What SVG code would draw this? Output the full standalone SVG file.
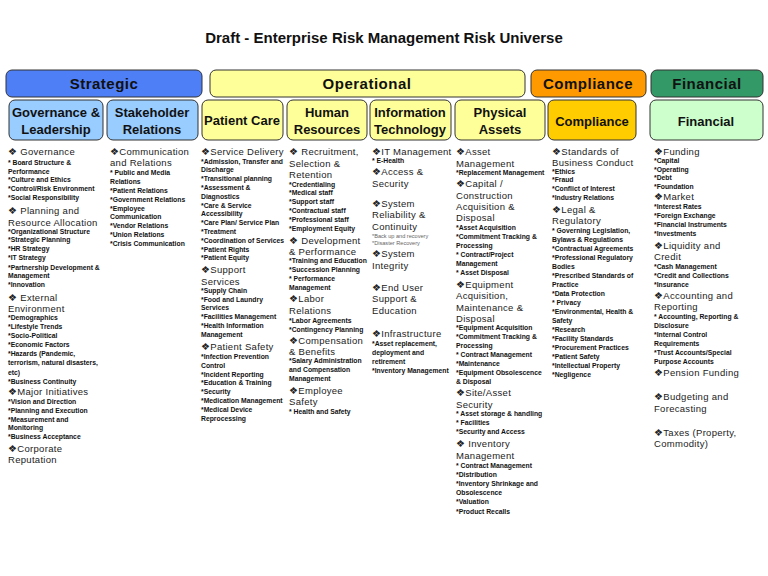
<svg xmlns="http://www.w3.org/2000/svg" width="768" height="576" viewBox="0 0 768 576">
<style>
text{font-family:"Liberation Sans",Arial,sans-serif;fill:#111}
.title{font-size:15px;font-weight:bold;text-anchor:middle}
.cat{font-size:15px;font-weight:bold;text-anchor:middle;letter-spacing:0.5px}
.sub{font-size:13px;font-weight:bold;text-anchor:middle}
.h{font-size:9.5px;fill:#222;letter-spacing:0.3px}
.s{font-size:6.8px;font-weight:bold}
.t{font-size:5.6px;fill:#666}
.box{stroke:#333;stroke-width:1}
</style>
<rect width="768" height="576" fill="#fff"/>
<text class="title" x="384" y="43">Draft - Enterprise Risk Management Risk Universe</text>

<g id="cat-strategic"><rect class="box" x="6" y="70" width="196" height="27" rx="6" fill="#4f7ff7"/><text class="cat" x="104" y="89">Strategic</text></g>
<g id="cat-operational"><rect class="box" x="210" y="70" width="315" height="27" rx="6" fill="#ffff99"/><text class="cat" x="367" y="89">Operational</text></g>
<g id="cat-compliance"><rect class="box" x="531" y="70" width="115" height="27" rx="6" fill="#ff9900"/><text class="cat" x="588" y="89">Compliance</text></g>
<g id="cat-financial"><rect class="box" x="651" y="70" width="112" height="27" rx="6" fill="#339966"/><text class="cat" x="707" y="89">Financial</text></g>

<g id="sub-governance"><rect class="box" x="9" y="100" width="94" height="40" rx="6" fill="#99ccff"/><text class="sub" x="56" y="117">Governance &amp;</text><text class="sub" x="56" y="134">Leadership</text></g>
<g id="sub-stakeholder"><rect class="box" x="107" y="100" width="91" height="40" rx="6" fill="#99ccff"/><text class="sub" x="152" y="117">Stakeholder</text><text class="sub" x="152" y="134">Relations</text></g>
<g id="sub-patient"><rect class="box" x="202" y="100" width="81" height="40" rx="6" fill="#ffff99"/><text class="sub" x="242" y="125">Patient Care</text></g>
<g id="sub-hr"><rect class="box" x="287" y="100" width="80" height="40" rx="6" fill="#ffff99"/><text class="sub" x="327" y="117">Human</text><text class="sub" x="327" y="134">Resources</text></g>
<g id="sub-it"><rect class="box" x="370" y="100" width="81" height="40" rx="6" fill="#ffff99"/><text class="sub" x="410" y="117">Information</text><text class="sub" x="410" y="134">Technology</text></g>
<g id="sub-physical"><rect class="box" x="455" y="100" width="90" height="40" rx="6" fill="#ffff99"/><text class="sub" x="500" y="117">Physical</text><text class="sub" x="500" y="134">Assets</text></g>
<g id="sub-compliance"><rect class="box" x="548" y="100" width="88" height="40" rx="6" fill="#ffcc00"/><text class="sub" x="592" y="126">Compliance</text></g>
<g id="sub-financial"><rect class="box" x="650" y="100" width="113" height="40" rx="6" fill="#ccffcc"/><text class="sub" x="706" y="126">Financial</text></g>

<g id="connectors"></g>

<g id="list-governance" transform="translate(8,0)">
<text class="h" y="155">❖ Governance</text>
<text class="s" y="165">* Board Structure &amp;</text>
<text class="s" y="174">Performance</text>
<text class="s" y="182">*Culture and Ethics</text>
<text class="s" y="191">*Control/Risk Environment</text>
<text class="s" y="200">*Social Responsibility</text>
<text class="h" y="214">❖ Planning and</text>
<text class="h" y="226">Resource Allocation</text>
<text class="s" y="234">*Organizational Structure</text>
<text class="s" y="242">*Strategic Planning</text>
<text class="s" y="251">*HR Strategy</text>
<text class="s" y="260">*IT Strategy</text>
<text class="s" y="270">*Partnership Development &amp;</text>
<text class="s" y="278">Management</text>
<text class="s" y="287">*Innovation</text>
<text class="h" y="301">❖ External</text>
<text class="h" y="312">Environment</text>
<text class="s" y="320">*Demographics</text>
<text class="s" y="329">*Lifestyle Trends</text>
<text class="s" y="338">*Socio-Political</text>
<text class="s" y="347">*Economic Factors</text>
<text class="s" y="356">*Hazards (Pandemic,</text>
<text class="s" y="365">terrorism, natural disasters,</text>
<text class="s" y="375">etc)</text>
<text class="s" y="384">*Business Continuity</text>
<text class="h" y="395">❖Major Initiatives</text>
<text class="s" y="404">*Vision and Direction</text>
<text class="s" y="413">*Planning and Execution</text>
<text class="s" y="422">*Measurement and</text>
<text class="s" y="430">Monitoring</text>
<text class="s" y="439">*Business Acceptance</text>
<text class="h" y="452">❖Corporate</text>
<text class="h" y="463">Reputation</text>
</g>

<g id="list-stakeholder" transform="translate(110,0)">
<text class="h" y="155">❖Communication</text>
<text class="h" y="166">and Relations</text>
<text class="s" y="175">* Public and Media</text>
<text class="s" y="184">Relations</text>
<text class="s" y="193">*Patient Relations</text>
<text class="s" y="202">*Government Relations</text>
<text class="s" y="211">*Employee</text>
<text class="s" y="219">Communication</text>
<text class="s" y="228">*Vendor Relations</text>
<text class="s" y="237">*Union Relations</text>
<text class="s" y="246">*Crisis Communication</text>
</g>

<g id="list-patient" transform="translate(201,0)">
<text class="h" y="155">❖Service Delivery</text>
<text class="s" y="164">*Admission, Transfer and</text>
<text class="s" y="172">Discharge</text>
<text class="s" y="181">*Transitional planning</text>
<text class="s" y="190">*Assessment &amp;</text>
<text class="s" y="199">Diagnostics</text>
<text class="s" y="208">*Care &amp; Service</text>
<text class="s" y="216">Accessibility</text>
<text class="s" y="225">*Care Plan/ Service Plan</text>
<text class="s" y="234">*Treatment</text>
<text class="s" y="243">*Coordination of Services</text>
<text class="s" y="252">*Patient Rights</text>
<text class="s" y="260">*Patient Equity</text>
<text class="h" y="273">❖Support</text>
<text class="h" y="285">Services</text>
<text class="s" y="293">*Supply Chain</text>
<text class="s" y="302">*Food and Laundry</text>
<text class="s" y="310">Services</text>
<text class="s" y="319">*Facilities Management</text>
<text class="s" y="328">*Health Information</text>
<text class="s" y="337">Management</text>
<text class="h" y="350">❖Patient Safety</text>
<text class="s" y="359">*Infection Prevention</text>
<text class="s" y="368">Control</text>
<text class="s" y="377">*Incident Reporting</text>
<text class="s" y="385">*Education &amp; Training</text>
<text class="s" y="394">*Security</text>
<text class="s" y="403">*Medication Management</text>
<text class="s" y="412">*Medical Device</text>
<text class="s" y="421">Reprocessing</text>
</g>

<g id="list-hr" transform="translate(289,0)">
<text class="h" y="155">❖ Recruitment,</text>
<text class="h" y="167">Selection &amp;</text>
<text class="h" y="178">Retention</text>
<text class="s" y="187">*Credentialing</text>
<text class="s" y="195">*Medical staff</text>
<text class="s" y="204">*Support staff</text>
<text class="s" y="213">*Contractual staff</text>
<text class="s" y="222">*Professional staff</text>
<text class="s" y="231">*Employment Equity</text>
<text class="h" y="244">❖ Development</text>
<text class="h" y="255">&amp; Performance</text>
<text class="s" y="263">*Training and Education</text>
<text class="s" y="272">*Succession Planning</text>
<text class="s" y="281">* Performance</text>
<text class="s" y="290">Management</text>
<text class="h" y="302">❖Labor</text>
<text class="h" y="314">Relations</text>
<text class="s" y="323">*Labor Agreements</text>
<text class="s" y="332">*Contingency Planning</text>
<text class="h" y="344">❖Compensation</text>
<text class="h" y="355">&amp; Benefits</text>
<text class="s" y="363">*Salary Administration</text>
<text class="s" y="372">and Compensation</text>
<text class="s" y="381">Management</text>
<text class="h" y="394">❖Employee</text>
<text class="h" y="405">Safety</text>
<text class="s" y="414">* Health and Safety</text>
</g>

<g id="list-it" transform="translate(372,0)">
<text class="h" y="155">❖IT Management</text>
<text class="s" y="163">* E-Health</text>
<text class="h" y="175">❖Access &amp;</text>
<text class="h" y="187">Security</text>
<text class="h" y="207">❖System</text>
<text class="h" y="218">Reliability &amp;</text>
<text class="h" y="230">Continuity</text>
<text class="t" y="238">*Back up and recovery</text>
<text class="t" y="245">*Disaster Recovery</text>
<text class="h" y="257">❖System</text>
<text class="h" y="269">Integrity</text>
<text class="h" y="291">❖End User</text>
<text class="h" y="302">Support &amp;</text>
<text class="h" y="314">Education</text>
<text class="h" y="337">❖Infrastructure</text>
<text class="s" y="346">*Asset replacement,</text>
<text class="s" y="355">deployment and</text>
<text class="s" y="364">retirement</text>
<text class="s" y="373">*Inventory Management</text>
</g>

<g id="list-physical" transform="translate(456,0)">
<text class="h" y="155">❖Asset</text>
<text class="h" y="167">Management</text>
<text class="s" y="175">*Replacement Management</text>
<text class="h" y="187">❖Capital /</text>
<text class="h" y="199">Construction</text>
<text class="h" y="210">Acquisition &amp;</text>
<text class="h" y="221">Disposal</text>
<text class="s" y="230">*Asset Acquisition</text>
<text class="s" y="239">*Commitment Tracking &amp;</text>
<text class="s" y="248">Processing</text>
<text class="s" y="257">* Contract/Project</text>
<text class="s" y="266">Management</text>
<text class="s" y="275">* Asset Disposal</text>
<text class="h" y="288">❖Equipment</text>
<text class="h" y="299">Acquisition,</text>
<text class="h" y="311">Maintenance &amp;</text>
<text class="h" y="322">Disposal</text>
<text class="s" y="330">*Equipment Acquisition</text>
<text class="s" y="339">*Commitment Tracking &amp;</text>
<text class="s" y="348">Processing</text>
<text class="s" y="357">* Contract Management</text>
<text class="s" y="366">*Maintenance</text>
<text class="s" y="375">*Equipment Obsolescence</text>
<text class="s" y="384">&amp; Disposal</text>
<text class="h" y="396">❖Site/Asset</text>
<text class="h" y="408">Security</text>
<text class="s" y="416">* Asset storage &amp; handling</text>
<text class="s" y="425">* Facilities</text>
<text class="s" y="434">*Security and Access</text>
<text class="h" y="447">❖ Inventory</text>
<text class="h" y="459">Management</text>
<text class="s" y="468">* Contract Management</text>
<text class="s" y="477">*Distribution</text>
<text class="s" y="486">*Inventory Shrinkage and</text>
<text class="s" y="495">Obsolescence</text>
<text class="s" y="504">*Valuation</text>
<text class="s" y="514">*Product Recalls</text>
</g>

<g id="list-compliance" transform="translate(552,0)">
<text class="h" y="155">❖Standards of</text>
<text class="h" y="166">Business Conduct</text>
<text class="s" y="174">*Ethics</text>
<text class="s" y="182">*Fraud</text>
<text class="s" y="191">*Conflict of Interest</text>
<text class="s" y="200">*Industry Relations</text>
<text class="h" y="213">❖Legal &amp;</text>
<text class="h" y="224">Regulatory</text>
<text class="s" y="233">* Governing Legislation,</text>
<text class="s" y="242">Bylaws &amp; Regulations</text>
<text class="s" y="251">*Contractual Agreements</text>
<text class="s" y="260">*Professional Regulatory</text>
<text class="s" y="269">Bodies</text>
<text class="s" y="278">*Prescribed Standards of</text>
<text class="s" y="287">Practice</text>
<text class="s" y="296">*Data Protection</text>
<text class="s" y="305">* Privacy</text>
<text class="s" y="314">*Environmental, Health &amp;</text>
<text class="s" y="323">Safety</text>
<text class="s" y="332">*Research</text>
<text class="s" y="341">*Facility Standards</text>
<text class="s" y="350">*Procurement Practices</text>
<text class="s" y="359">*Patient Safety</text>
<text class="s" y="368">*Intellectual Property</text>
<text class="s" y="377">*Negligence</text>
</g>

<g id="list-financial" transform="translate(654,0)">
<text class="h" y="155">❖Funding</text>
<text class="s" y="163">*Capital</text>
<text class="s" y="172">*Operating</text>
<text class="s" y="180">*Debt</text>
<text class="s" y="189">*Foundation</text>
<text class="h" y="200">❖Market</text>
<text class="s" y="209">*Interest Rates</text>
<text class="s" y="218">*Foreign Exchange</text>
<text class="s" y="227">*Financial Instruments</text>
<text class="s" y="236">*Investments</text>
<text class="h" y="249">❖Liquidity and</text>
<text class="h" y="260">Credit</text>
<text class="s" y="269">*Cash Management</text>
<text class="s" y="278">*Credit and Collections</text>
<text class="s" y="287">*Insurance</text>
<text class="h" y="299">❖Accounting and</text>
<text class="h" y="310">Reporting</text>
<text class="s" y="319">* Accounting, Reporting &amp;</text>
<text class="s" y="328">Disclosure</text>
<text class="s" y="337">*Internal Control</text>
<text class="s" y="346">Requirements</text>
<text class="s" y="355">*Trust Accounts/Special</text>
<text class="s" y="364">Purpose Accounts</text>
<text class="h" y="376">❖Pension Funding</text>
<text class="h" y="400">❖Budgeting and</text>
<text class="h" y="412">Forecasting</text>
<text class="h" y="436">❖Taxes (Property,</text>
<text class="h" y="447">Commodity)</text>
</g>
</svg>
